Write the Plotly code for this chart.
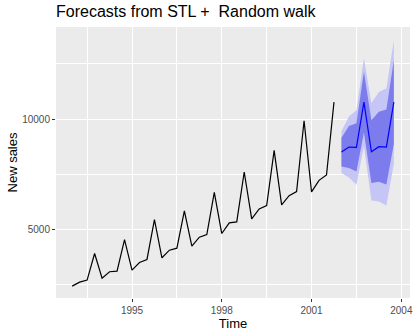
import plotly.graph_objects as go

# Quarterly new sales, 1993 Q1 .. 2001 Q4
start_year = 1993
sales = [2439, 2619, 2710, 3916,
         2800, 3089, 3116, 4548,
         3161, 3509, 3645, 5451,
         3721, 4065, 4155, 5844,
         4245, 4652, 4774, 6685,
         4819, 5302, 5347, 7606,
         5483, 5935, 6084, 8582,
         6115, 6535, 6716, 9923,
         6702, 7227, 7470, 10768]

# Forecasts 2002 Q1 .. 2003 Q4
fc_start = 2002
forecast = [8509, 8735, 8717, 10768, 8523, 8749, 8735, 10768]
lo80 = [7859, 7785, 7627, 9388, 7103, 7169, 7035, 8868]
hi80 = [9159, 9685, 9807, 12148, 9943, 10329, 10435, 12668]
lo95 = [7559, 7355, 7032, 8778, 6313, 6269, 6085, 7968]
hi95 = [9459, 10115, 10402, 12758, 10733, 11229, 11385, 13568]

x_ticks = [1995, 1998, 2001, 2004]
y_ticks = [5000, 10000]

t_hist = [start_year + i / 4 for i in range(len(sales))]
t_fc = [fc_start + i / 4 for i in range(len(forecast))]

fig = go.Figure()

fig.add_trace(go.Scatter(
    x=t_fc + t_fc[::-1], y=hi95 + lo95[::-1], fill="toself",
    fillcolor="#C6C6F6", line=dict(width=0), mode="lines",
    hoverinfo="skip", showlegend=False))
fig.add_trace(go.Scatter(
    x=t_fc + t_fc[::-1], y=hi80 + lo80[::-1], fill="toself",
    fillcolor="#7C7CEC", line=dict(width=0), mode="lines",
    hoverinfo="skip", showlegend=False))
fig.add_trace(go.Scatter(
    x=t_hist, y=sales, mode="lines",
    line=dict(color="black", width=1.2), showlegend=False))
fig.add_trace(go.Scatter(
    x=t_fc, y=forecast, mode="lines",
    line=dict(color="#0000FF", width=1.2), showlegend=False))

font = "Liberation Sans, Arial, Helvetica, sans-serif"

fig.update_layout(
    width=420, height=336,
    margin=dict(l=56, r=7, t=27, b=38),
    paper_bgcolor="white", plot_bgcolor="#EBEBEB",
    font=dict(family=font, color="black"),
    title=dict(text="Forecasts from STL +  Random walk",
               x=0, xref="paper", xanchor="left",
               y=1 - 11 / 336, yref="container", yanchor="middle",
               font=dict(size=16, color="black")),
    showlegend=False,
)

fig.update_xaxes(
    range=[1992.46, 2004.29], tickmode="array", tickvals=x_ticks,
    ticktext=[str(v) for v in x_ticks],
    showgrid=True, gridcolor="white", gridwidth=1.1,
    minor=dict(showgrid=True, gridcolor="white", gridwidth=0.5,
               tickmode="array", tickvals=[1993.5, 1996.5, 1999.5, 2002.5],
               ticks=""),
    ticks="outside", ticklen=3, tickcolor="#333333", tickwidth=1,
    tickfont=dict(size=10, color="#4D4D4D"),
    zeroline=False, showline=False,
    title=dict(text="Time", font=dict(size=13, color="black"), standoff=2),
)
fig.update_yaxes(
    range=[1900, 14170], tickmode="array", tickvals=y_ticks,
    ticktext=[str(v) for v in y_ticks],
    showgrid=True, gridcolor="white", gridwidth=1.1,
    minor=dict(showgrid=True, gridcolor="white", gridwidth=0.5,
               tickmode="array", tickvals=[2500, 7500, 12500], ticks=""),
    ticks="outside", ticklen=3, tickcolor="#333333", tickwidth=1,
    tickfont=dict(size=10, color="#4D4D4D"),
    zeroline=False, showline=False,
    title=dict(text="New sales", font=dict(size=13, color="black"), standoff=1),
)

fig.write_html("out.html")
